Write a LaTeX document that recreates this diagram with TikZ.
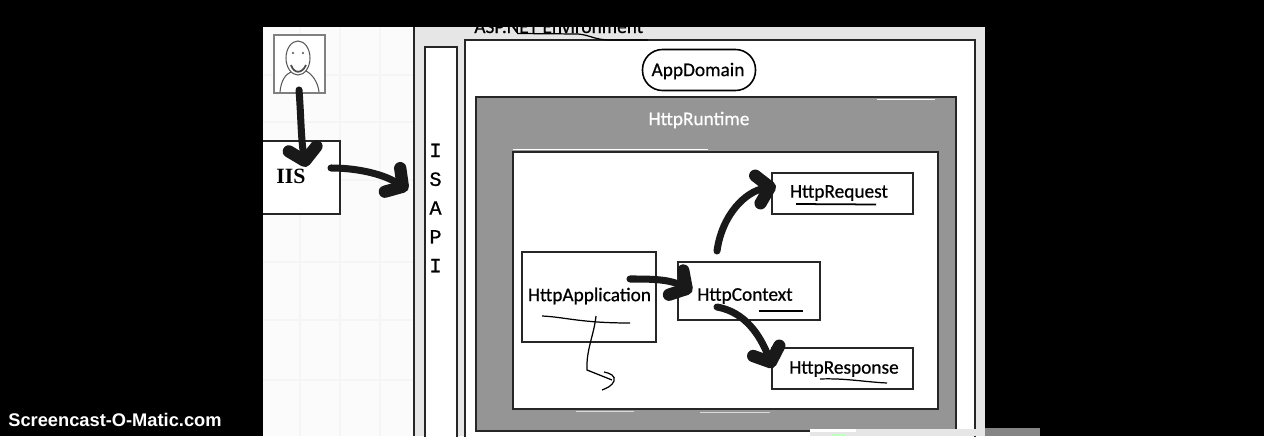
\documentclass[tikz,border=0pt]{standalone}
\usepackage{fontspec}
\setmainfont{Carlito}[FakeBold=0.6]
\newfontfamily\markfont{Liberation Sans}
\newfontfamily\penfont{Liberation Mono}[FakeBold=0.8]
\newfontfamily\iisfont{Liberation Serif}
\usetikzlibrary{arrows.meta}
\def\px{0.02cm}
\definecolor{inkline}{HTML}{262626}
\definecolor{runtimegray}{HTML}{959595}
\definecolor{bandgray}{HTML}{E6E6E6}
\definecolor{papergray}{HTML}{FBFBFB}
\definecolor{gridgray}{HTML}{F5F5F5}
\tikzset{
  sbox/.style={draw=inkline,line width=1.6pt,fill=white,inner sep=0pt},
  stext/.style={font=\fontsize{11}{14}\selectfont,text=black,inner sep=0pt},
  pentext/.style={font=\penfont\fontsize{11.5}{16.4}\selectfont,text=black,inner sep=0pt},
  bigarrow/.style={draw=black!90,line width=4pt,line cap=round,-{Straight Barb[length=7pt,width=16pt,line width=7pt,round]}},
  thinline/.style={draw=black,line width=0.7pt}
}
\begin{document}
\begin{tikzpicture}[x=\px,y=-\px]
\useasboundingbox (0,0) rectangle (1264,436);
\fill[black] (0,0) rectangle (1264,436);
\fill[bandgray] (263,20) rectangle (985,436);
\fill[papergray] (263,20) rectangle (414,436);
\foreach \gx in {300,340,380} \draw[gridgray,line width=1pt] (\gx,27) -- (\gx,436);
\foreach \gy in {75,122,180,262,320,380} \draw[gridgray,line width=1pt] (263,\gy) -- (414,\gy);
\draw[inkline,line width=1.5pt] (414,20) -- (414,436);

\node[sbox,minimum width=51*\px,minimum height=58*\px,draw=black!50,line width=0.6pt] (user) at (299.5,64) {};
\draw[black!65,line width=0.6pt] (298,58) ellipse (12 and 17);
\fill[black!70] (293,53) circle (1.1) (303,53) circle (1.1);
\draw[black!70,line width=1pt] (291,65) .. controls (294,74) and (302,74) .. (306,65);
\draw[black!65,line width=0.6pt] (280,92) .. controls (281,80) and (286,74) .. (291,72);
\draw[black!65,line width=0.6pt] (306,71) .. controls (312,74) and (318,82) .. (319,92);

\node[sbox,minimum width=90*\px,minimum height=73*\px] (iis) at (295,177.5) {};
\node[stext,font=\iisfont\bfseries\fontsize{12.4}{14}\selectfont] (iistext) at (291,176) {IIS};

\node[sbox,minimum width=32*\px,minimum height=410*\px] (isapi) at (441,252) {};
\node[pentext,align=center] (isapitext) at (435.5,208) {I\\S\\A\\P\\I};

\node[sbox,minimum width=510*\px,minimum height=410*\px] (aspnet) at (720,245) {};
\node[stext,anchor=base west] (aspnettext) at (474,33) {ASP.NET Environment};
\draw[thinline] (517,33.5) -- (578,34) .. controls (590,35) and (595,40) .. (610,40) -- (648,40);

\node[sbox,rounded corners=20*\px,minimum width=113*\px,minimum height=41*\px,line width=0.9pt,draw=black] (appdomain) at (699,70) {};
\node[stext] (appdomaintext) at (698,71) {AppDomain};

\node[sbox,fill=runtimegray,minimum width=480*\px,minimum height=334*\px] (runtime) at (716,264) {};
\node[stext,text=white] (runtimetext) at (699,120) {HttpRuntime};
\draw[white,line width=1pt] (877,99.5) -- (935,99.5);

\node[sbox,minimum width=425*\px,minimum height=257*\px] (inner) at (725.5,280.5) {};
\draw[white,line width=1pt] (513,149.5) -- (708,149.5);
\draw[black!15,line width=0.5pt] (576,411.5) -- (634,411.5) (700,412) -- (770,412);

\node[sbox,minimum width=141*\px,minimum height=41*\px] (request) at (842.5,193.5) {};
\node[stext] (requesttext) at (839,193) {HttpRequest};
\draw[thinline,line width=1pt] (796,204) -- (876,204.5);

\node[sbox,minimum width=134*\px,minimum height=90*\px] (application) at (589,297) {};
\node[stext] (applicationtext) at (589.5,296) {HttpApplication};
\draw[thinline] (542,316) .. controls (565,317) and (580,323) .. (630,323);

\node[sbox,minimum width=142*\px,minimum height=58*\px] (context) at (749,291) {};
\node[stext] (contexttext) at (745,296) {HttpContext};
\draw[thinline] (759,311) -- (803,311);

\node[sbox,minimum width=141*\px,minimum height=41*\px] (response) at (842.5,368.5) {};
\node[stext] (responsetext) at (844,369) {HttpResponse};
\draw[thinline] (820,379) .. controls (845,378) and (865,382) .. (887,383);

\coordinate (userout) at (299,90);
\coordinate (iisin) at (306,167);
\coordinate (iisout) at (331,168);
\coordinate (isapiin) at (408,190);
\coordinate (appout) at (630,279);
\coordinate (ctxin) at (692,292);
\coordinate (ctxup) at (717,251);
\coordinate (reqin) at (776,186);
\coordinate (ctxdown) at (717,307);
\coordinate (respin) at (773,368);
\draw[bigarrow] (userout) .. controls (301,115) and (301,140) .. (iisin);
\draw[bigarrow] (iisout) .. controls (360,168) and (385,175) .. (isapiin);
\draw[bigarrow] (appout) .. controls (650,279) and (670,279) .. (ctxin);
\draw[bigarrow] (ctxup) .. controls (722,215) and (745,192) .. (reqin);
\draw[bigarrow] (ctxdown) .. controls (745,312) and (760,335) .. (respin);

\coordinate (appline) at (596,316);
\coordinate (append) at (612,380);
\draw[thinline] (appline) .. controls (594,335) and (586,350) .. (587,370) -- (append);
\draw[thinline] (604,372) .. controls (610,373) and (616,376) .. (614,381) .. controls (612,386) and (607,388) .. (602,390);

\fill[black] (0,0) rectangle (1264,27);
\fill[black] (0,0) rectangle (263,436);
\fill[bandgray] (810,429) rectangle (985,436);
\fill[white] (810,429) rectangle (856,432);
\fill[black!48] (985,428) rectangle (1040,436);
\fill[green!25] (832,434) rectangle (846,436);
\node[anchor=base west,inner sep=0pt,text=white,font=\markfont\bfseries\fontsize{10.4}{12}\selectfont] (watermark) at (8,426) {Screencast-O-Matic.com};
\end{tikzpicture}
\end{document}
